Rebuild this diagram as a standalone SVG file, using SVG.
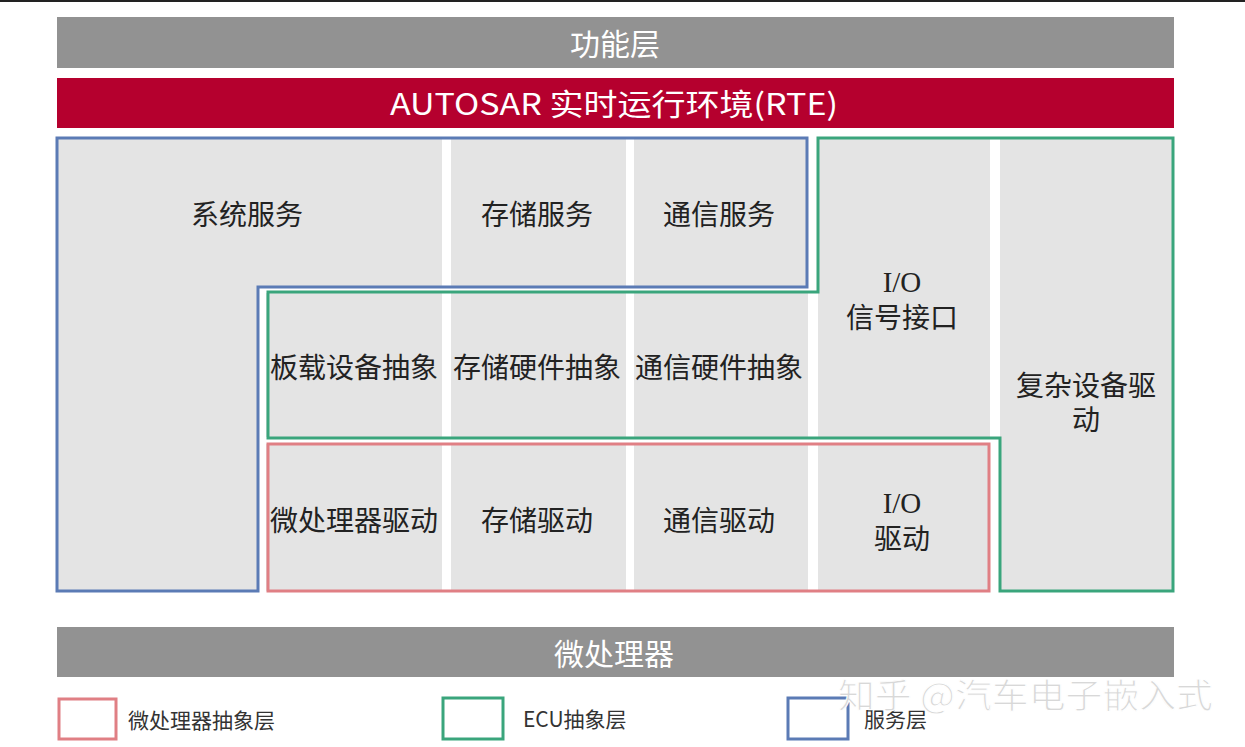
<svg xmlns="http://www.w3.org/2000/svg" width="1245" height="747" viewBox="0 0 1245 747">
<style>
.bar{fill:#929292}
.rte{fill:#b5002e}
.cell{fill:#e4e4e4}
.bt{font-family:"Noto Sans CJK SC","Noto Sans",sans-serif;font-size:30px;fill:#ffffff;text-anchor:middle;dominant-baseline:central}
.ct{font-family:"Noto Sans CJK SC","Noto Sans",sans-serif;font-size:28px;fill:#222222;text-anchor:middle;dominant-baseline:central}
.io{font-family:"Liberation Serif","Noto Sans CJK SC",serif;font-size:29px;fill:#222222;text-anchor:middle;dominant-baseline:central}
.lt{font-family:"Noto Sans CJK SC","Noto Sans",sans-serif;font-size:21px;fill:#333333;dominant-baseline:central}
.ol{fill:none;stroke-width:3}
.red{stroke:#e07f84}
.green{stroke:#3aa57c}
.blue{stroke:#5b7bb5}
</style>
<rect x="0" y="0" width="1245" height="747" fill="#ffffff"/>
<rect x="0" y="0" width="1245" height="2" fill="#222222"/>
<g id="func-layer"><rect class="bar" x="57" y="17" width="1117" height="51"/><text class="bt" x="615" y="42">功能层</text></g>
<g id="rte"><rect class="rte" x="57" y="78" width="1117" height="50"/><text class="bt" x="614" y="102" textLength="448" lengthAdjust="spacingAndGlyphs">AUTOSAR 实时运行环境(RTE)</text></g>
<g id="sys-service"><path class="cell" d="M57 138H442V287H258V591H57Z"/><text class="ct" x="247" y="213">系统服务</text></g>
<g id="mem-service"><rect class="cell" x="451" y="138" width="175" height="149"/><text class="ct" x="537" y="213">存储服务</text></g>
<g id="com-service"><rect class="cell" x="634" y="138" width="172" height="149"/><text class="ct" x="719" y="213">通信服务</text></g>
<g id="io-hw"><rect class="cell" x="818" y="138" width="172" height="299"/><text class="ct" x="902" y="282"><tspan class="io" x="902" y="282">I/O</tspan><tspan x="902" y="316">信号接口</tspan></text></g>
<g id="cdd"><rect class="cell" x="1000" y="138" width="172" height="453"/><text class="ct" x="1086" y="384"><tspan x="1086" y="384">复杂设备驱</tspan><tspan x="1086" y="418">动</tspan></text></g>
<g id="onboard-abs"><rect class="cell" x="266" y="293" width="176" height="144"/><text class="ct" x="354" y="366">板载设备抽象</text></g>
<g id="mem-hw-abs"><rect class="cell" x="451" y="293" width="175" height="144"/><text class="ct" x="537" y="366">存储硬件抽象</text></g>
<g id="com-hw-abs"><rect class="cell" x="634" y="293" width="174" height="144"/><text class="ct" x="719" y="366">通信硬件抽象</text></g>
<g id="mcu-drv"><rect class="cell" x="266" y="444" width="176" height="147"/><text class="ct" x="354" y="519">微处理器驱动</text></g>
<g id="mem-drv"><rect class="cell" x="451" y="444" width="175" height="147"/><text class="ct" x="537" y="519">存储驱动</text></g>
<g id="com-drv"><rect class="cell" x="634" y="444" width="174" height="147"/><text class="ct" x="719" y="519">通信驱动</text></g>
<g id="io-drv"><rect class="cell" x="818" y="444" width="172" height="147"/><text class="ct" x="902" y="503"><tspan class="io" x="902" y="503">I/O</tspan><tspan x="902" y="537">驱动</tspan></text></g>
<g id="outlines">
<path class="ol blue" d="M57 138H807V287H258V591H57Z"/>
<path class="ol green" d="M268 292H818V138H1173V591H1000V438H268Z"/>
<rect class="ol red" x="268" y="444" width="721" height="147"/>
</g>
<g id="mcu"><rect class="bar" x="57" y="627" width="1117" height="50"/><text class="bt" x="614" y="652">微处理器</text></g>
<g id="legend">
<rect class="ol red" x="59" y="699" width="57" height="40"/><text class="lt" x="128" y="719">微处理器抽象层</text>
<rect class="ol green" x="443" y="698" width="60" height="41"/><text class="lt" x="523" y="718">ECU抽象层</text>
<rect class="ol blue" x="788" y="698" width="60" height="41"/><text class="lt" x="864" y="718">服务层</text>
</g>
<text x="838" y="693" font-family="Noto Sans CJK SC,sans-serif" font-size="34" fill="#d8d8d8" stroke="#ffffff" stroke-width="1" dominant-baseline="central" textLength="375" lengthAdjust="spacingAndGlyphs">知乎 @汽车电子嵌入式</text>
</svg>
